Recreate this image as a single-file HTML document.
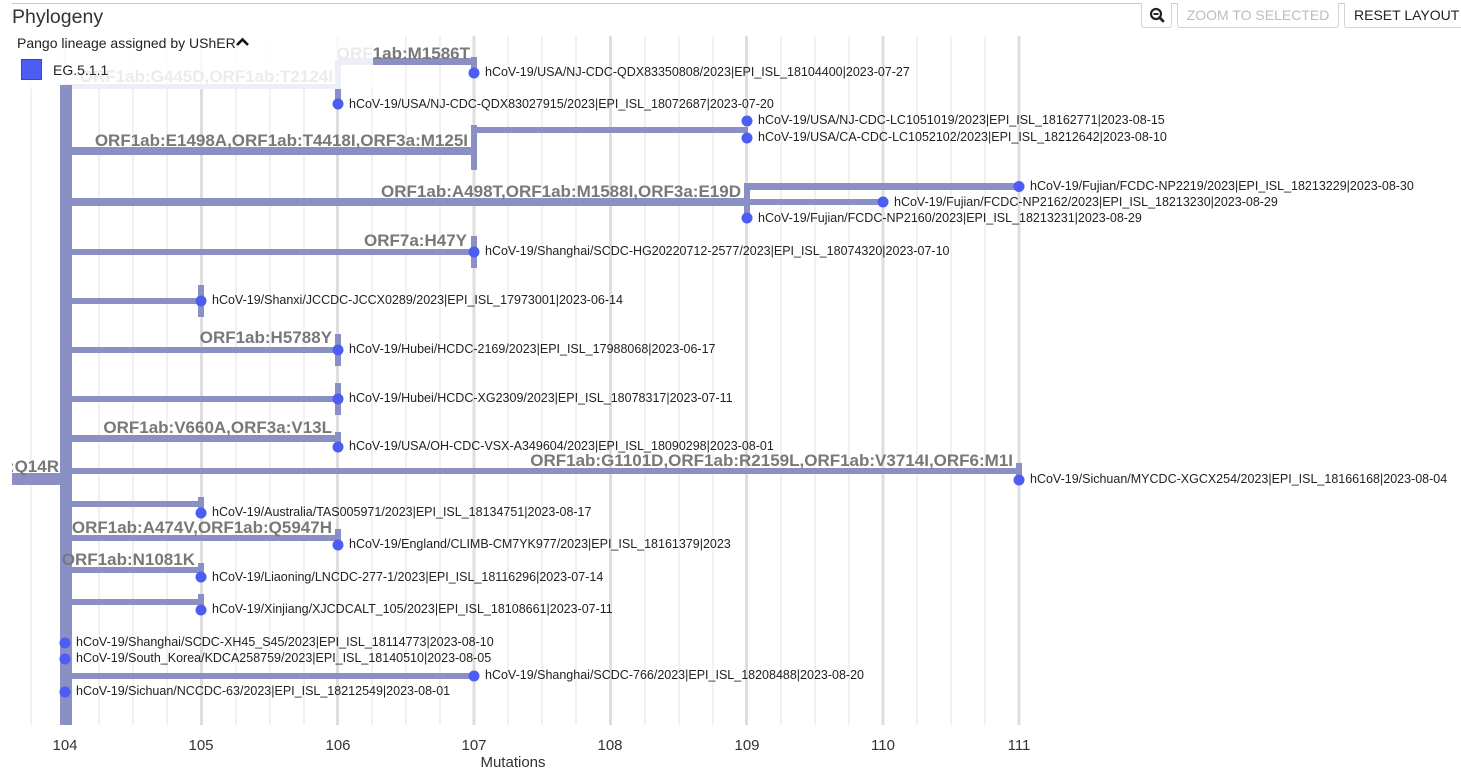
<!DOCTYPE html>
<html><head><meta charset="utf-8">
<style>
html,body{margin:0;padding:0;background:#fff;}
body{width:1461px;height:778px;overflow:hidden;position:relative;font-family:"Liberation Sans",Arial,sans-serif;}
svg{position:absolute;left:0;top:0;}
.btn{position:absolute;top:3px;height:25px;border:1px solid #d4d4d4;border-top:none;border-radius:0 0 3px 3px;background:#fff;box-sizing:border-box;font-size:14px;line-height:25px;text-align:center;}
</style></head>
<body>
<svg width="1461" height="778" viewBox="0 0 1461 778" xmlns="http://www.w3.org/2000/svg" font-family="Liberation Sans, Arial, sans-serif">
<defs>
<clipPath id="clipL"><rect x="12" y="0" width="1449" height="778"/></clipPath>
</defs>
<rect x="12" y="3" width="1449" height="1" fill="#c8c8c8"/>

<g id="grid">
<g fill="#f1f1f1">
<rect x="30" y="36" width="2" height="689"/>
<rect x="98" y="36" width="2" height="689"/>
<rect x="132" y="36" width="2" height="689"/>
<rect x="166" y="36" width="2" height="689"/>
<rect x="235" y="36" width="2" height="689"/>
<rect x="269" y="36" width="2" height="689"/>
<rect x="303" y="36" width="2" height="689"/>
<rect x="371" y="36" width="2" height="689"/>
<rect x="405" y="36" width="2" height="689"/>
<rect x="439" y="36" width="2" height="689"/>
<rect x="507" y="36" width="2" height="689"/>
<rect x="541" y="36" width="2" height="689"/>
<rect x="575" y="36" width="2" height="689"/>
<rect x="644" y="36" width="2" height="689"/>
<rect x="678" y="36" width="2" height="689"/>
<rect x="712" y="36" width="2" height="689"/>
<rect x="780" y="36" width="2" height="689"/>
<rect x="814" y="36" width="2" height="689"/>
<rect x="848" y="36" width="2" height="689"/>
<rect x="916" y="36" width="2" height="689"/>
<rect x="950" y="36" width="2" height="689"/>
<rect x="984" y="36" width="2" height="689"/>
</g>
<g fill="#dedede">
<rect x="63.5" y="36" width="3" height="689"/>
<rect x="200" y="36" width="3" height="689"/>
<rect x="336" y="36" width="3" height="689"/>
<rect x="472.5" y="36" width="3" height="689"/>
<rect x="609" y="36" width="3" height="689"/>
<rect x="745" y="36" width="3" height="689"/>
<rect x="881.5" y="36" width="3" height="689"/>
<rect x="1017.5" y="36" width="3" height="689"/>
</g>
</g>

<!-- top clade (partly under overlay) -->
<g fill="#8b90c4">
<rect x="66" y="84" width="275" height="5"/>
<rect x="335" y="60" width="6" height="44"/>
<rect x="338" y="58" width="139" height="7"/>
<rect x="471" y="57" width="6" height="16"/>
</g>
<g font-weight="bold" font-size="17" fill="#787878" text-anchor="end">
<text x="470" y="59">ORF1ab:M1586T</text>
<text x="333" y="82">ORF1ab:G445D,ORF1ab:T2124I</text>
</g>
<g fill="#4b5df3">
<circle cx="474" cy="73" r="5.5"/>
<circle cx="338" cy="104" r="5.5"/>
</g>

<!-- legend overlay fading -->
<rect x="0" y="35" width="373" height="54" fill="#fff" fill-opacity="0.85"/>

<!-- main stem & root & branches -->
<g fill="#8b90c4">
<rect x="60" y="85" width="12" height="640"/>
<rect x="12" y="473" width="54" height="12"/>
<rect x="66" y="147" width="411" height="8"/>
<rect x="471" y="125" width="6" height="45"/>
<rect x="474" y="127" width="274" height="6"/>
<rect x="66" y="198" width="684" height="8"/>
<rect x="744" y="183" width="6" height="37"/>
<rect x="747" y="183" width="272" height="7"/>
<rect x="747" y="199" width="136" height="6"/>
<rect x="66" y="249" width="408" height="6"/>
<rect x="471" y="236" width="6" height="32"/>
<rect x="66" y="298" width="135" height="6"/>
<rect x="198" y="285" width="6" height="32"/>
<rect x="66" y="347" width="272" height="6"/>
<rect x="335" y="334" width="6" height="32"/>
<rect x="66" y="396" width="272" height="6"/>
<rect x="335" y="383" width="6" height="32"/>
<rect x="66" y="435" width="272" height="7"/>
<rect x="335" y="432" width="6" height="15"/>
<rect x="66" y="468" width="956" height="6"/>
<rect x="1016" y="463" width="6" height="17"/>
<rect x="66" y="501" width="135" height="6"/>
<rect x="198" y="497" width="6" height="16"/>
<rect x="66" y="535" width="272" height="6"/>
<rect x="335" y="529" width="6" height="16"/>
<rect x="66" y="567" width="135" height="6"/>
<rect x="198" y="563" width="6" height="14"/>
<rect x="66" y="599" width="135" height="6"/>
<rect x="198" y="594" width="6" height="16"/>
<rect x="66" y="673" width="408" height="6"/>
</g>
<g clip-path="url(#clipL)">
<text x="59" y="472" font-weight="bold" font-size="17" fill="#787878" text-anchor="end">ORF9b:Q14R</text>
</g>

<g font-weight="bold" font-size="17" fill="#787878" text-anchor="end">
<text x="468" y="146">ORF1ab:E1498A,ORF1ab:T4418I,ORF3a:M125I</text>
<text x="741" y="197">ORF1ab:A498T,ORF1ab:M1588I,ORF3a:E19D</text>
<text x="467" y="246">ORF7a:H47Y</text>
<text x="332" y="343">ORF1ab:H5788Y</text>
<text x="332" y="433">ORF1ab:V660A,ORF3a:V13L</text>
<text x="1013" y="466">ORF1ab:G1101D,ORF1ab:R2159L,ORF1ab:V3714I,ORF6:M1I</text>
<text x="332" y="533">ORF1ab:A474V,ORF1ab:Q5947H</text>
<text x="195" y="565">ORF1ab:N1081K</text>
</g>

<g fill="#4b5df3">
<circle cx="747" cy="121" r="5.5"/>
<circle cx="747" cy="138" r="5.5"/>
<circle cx="1019" cy="186.5" r="5.5"/>
<circle cx="883" cy="202" r="5.5"/>
<circle cx="747" cy="218" r="5.5"/>
<circle cx="474" cy="252" r="5.5"/>
<circle cx="201" cy="301" r="5.5"/>
<circle cx="338" cy="350" r="5.5"/>
<circle cx="338" cy="399" r="5.5"/>
<circle cx="338" cy="447" r="5.5"/>
<circle cx="1019" cy="480" r="5.5"/>
<circle cx="201" cy="513" r="5.5"/>
<circle cx="338" cy="545" r="5.5"/>
<circle cx="201" cy="577" r="5.5"/>
<circle cx="201" cy="610" r="5.5"/>
<circle cx="65" cy="643" r="5.5"/>
<circle cx="65" cy="659" r="5.5"/>
<circle cx="474" cy="676" r="5.5"/>
<circle cx="65" cy="692" r="5.5"/>
</g>

<g font-size="12.5" fill="#222">
<text x="485" y="76">hCoV-19/USA/NJ-CDC-QDX83350808/2023|EPI_ISL_18104400|2023-07-27</text>
<text x="349" y="108">hCoV-19/USA/NJ-CDC-QDX83027915/2023|EPI_ISL_18072687|2023-07-20</text>
<text x="758" y="124">hCoV-19/USA/NJ-CDC-LC1051019/2023|EPI_ISL_18162771|2023-08-15</text>
<text x="758" y="141">hCoV-19/USA/CA-CDC-LC1052102/2023|EPI_ISL_18212642|2023-08-10</text>
<text x="1030" y="190">hCoV-19/Fujian/FCDC-NP2219/2023|EPI_ISL_18213229|2023-08-30</text>
<text x="894" y="206">hCoV-19/Fujian/FCDC-NP2162/2023|EPI_ISL_18213230|2023-08-29</text>
<text x="758" y="222">hCoV-19/Fujian/FCDC-NP2160/2023|EPI_ISL_18213231|2023-08-29</text>
<text x="485" y="255">hCoV-19/Shanghai/SCDC-HG20220712-2577/2023|EPI_ISL_18074320|2023-07-10</text>
<text x="212" y="304">hCoV-19/Shanxi/JCCDC-JCCX0289/2023|EPI_ISL_17973001|2023-06-14</text>
<text x="349" y="353">hCoV-19/Hubei/HCDC-2169/2023|EPI_ISL_17988068|2023-06-17</text>
<text x="349" y="402">hCoV-19/Hubei/HCDC-XG2309/2023|EPI_ISL_18078317|2023-07-11</text>
<text x="349" y="450">hCoV-19/USA/OH-CDC-VSX-A349604/2023|EPI_ISL_18090298|2023-08-01</text>
<text x="1030" y="483">hCoV-19/Sichuan/MYCDC-XGCX254/2023|EPI_ISL_18166168|2023-08-04</text>
<text x="212" y="516">hCoV-19/Australia/TAS005971/2023|EPI_ISL_18134751|2023-08-17</text>
<text x="349" y="548">hCoV-19/England/CLIMB-CM7YK977/2023|EPI_ISL_18161379|2023</text>
<text x="212" y="581">hCoV-19/Liaoning/LNCDC-277-1/2023|EPI_ISL_18116296|2023-07-14</text>
<text x="212" y="613">hCoV-19/Xinjiang/XJCDCALT_105/2023|EPI_ISL_18108661|2023-07-11</text>
<text x="76" y="646">hCoV-19/Shanghai/SCDC-XH45_S45/2023|EPI_ISL_18114773|2023-08-10</text>
<text x="76" y="662">hCoV-19/South_Korea/KDCA258759/2023|EPI_ISL_18140510|2023-08-05</text>
<text x="485" y="679">hCoV-19/Shanghai/SCDC-766/2023|EPI_ISL_18208488|2023-08-20</text>
<text x="76" y="695">hCoV-19/Sichuan/NCCDC-63/2023|EPI_ISL_18212549|2023-08-01</text>
</g>

<g font-size="15" fill="#333" text-anchor="middle">
<text x="65" y="750">104</text>
<text x="201" y="750">105</text>
<text x="338" y="750">106</text>
<text x="474" y="750">107</text>
<text x="610" y="750">108</text>
<text x="747" y="750">109</text>
<text x="883" y="750">110</text>
<text x="1019" y="750">111</text>
<text x="513" y="767">Mutations</text>
</g>

<text x="12" y="23" font-size="19.5" fill="#333">Phylogeny</text>
<text x="17" y="48" font-size="14" fill="#222">Pango lineage assigned by UShER</text>
<path d="M237 45 L242.5 39.5 L248 45" fill="none" stroke="#111" stroke-width="2.6"/>
<rect x="21.5" y="59.5" width="20" height="20" fill="#4b5df3" stroke="#3a48b5" stroke-width="1"/>
<text x="53" y="75" font-size="14" fill="#222">EG.5.1.1</text>
</svg>

<div class="btn" style="left:1141px;width:31px;">
<svg width="29" height="24" viewBox="0 0 29 24" style="position:static;display:block;">
<circle cx="14" cy="11" r="5" fill="none" stroke="#222" stroke-width="2.2"/>
<rect x="11.5" y="10" width="5" height="2" fill="#222"/>
<path d="M17.5 14.5 L21 18" stroke="#222" stroke-width="2.8" stroke-linecap="round"/>
</svg>
</div>
<div class="btn" style="left:1177px;width:162px;color:#bdbdbd;">ZOOM TO SELECTED</div>
<div class="btn" style="left:1344px;width:125px;color:#222;text-align:left;padding-left:9px;">RESET LAYOUT</div>
</body></html>
